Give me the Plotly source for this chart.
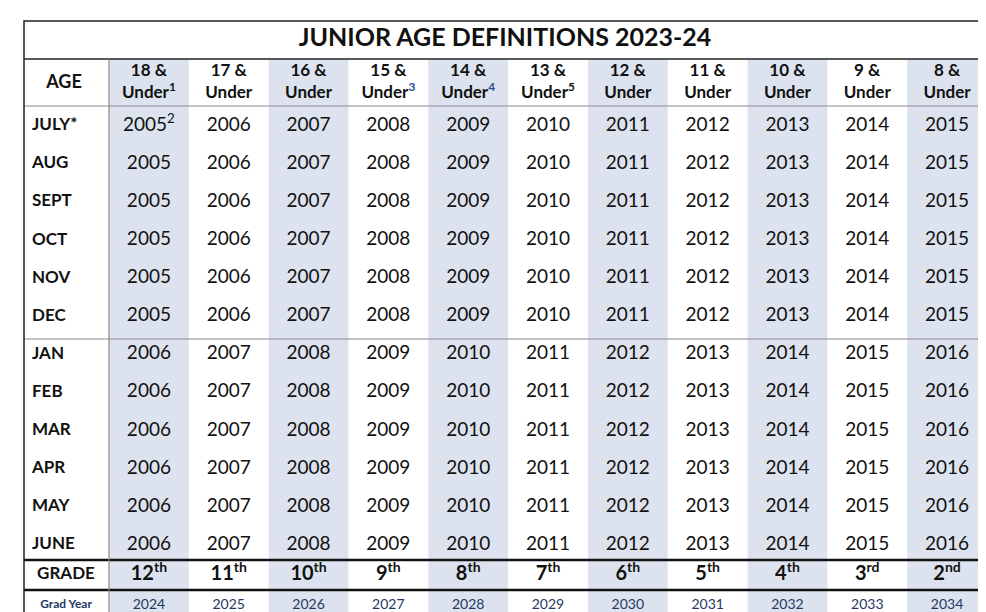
import plotly.graph_objects as go

title = "JUNIOR AGE DEFINITIONS 2023-24"
ages = ["18 &<br>Under<sup>1</sup>", "17 &<br>Under", "16 &<br>Under", "15 &<br>Under<sup><span style='color:#2f4b9a'>3</span></sup>",
        "14 &<br>Under<sup><span style='color:#2f4b9a'>4</span></sup>", "13 &<br>Under<sup>5</sup>", "12 &<br>Under",
        "11 &<br>Under", "10 &<br>Under", "9 &<br>Under", "8 &<br>Under"]
months = ["JULY*", "AUG", "SEPT", "OCT", "NOV", "DEC", "JAN", "FEB", "MAR", "APR", "MAY", "JUNE"]
fall_years = [2005, 2006, 2007, 2008, 2009, 2010, 2011, 2012, 2013, 2014, 2015]
spring_years = [2006, 2007, 2008, 2009, 2010, 2011, 2012, 2013, 2014, 2015, 2016]
grades = ["12<sup>th</sup>", "11<sup>th</sup>", "10<sup>th</sup>", "9<sup>th</sup>", "8<sup>th</sup>", "7<sup>th</sup>",
          "6<sup>th</sup>", "5<sup>th</sup>", "4<sup>th</sup>", "3<sup>rd</sup>", "2<sup>nd</sup>"]
grad_years = [2024, 2025, 2026, 2027, 2028, 2029, 2030, 2031, 2032, 2033, 2034]

FONT = "Lato"
L, R, LBL = 10, 973, 95
cw = (R - LBL) / len(ages)
xc = [LBL + (i + 0.5) * cw for i in range(len(ages))]
row_y = [112 + i * 38.1 for i in range(len(months))]
row_y[-1] = 531
shade = "#dce3ee"

fig = go.Figure()
shapes = []
for i in range(0, len(ages), 2):
    shapes.append(dict(type="rect", xref="x", yref="y", x0=LBL + i * cw, x1=LBL + (i + 1) * cw,
                       y0=45, y1=604, fillcolor=shade, line_width=0, layer="below"))

def hline(y, color="#8a8a8a", w=1.2):
    shapes.append(dict(type="line", xref="x", yref="y", x0=L, x1=R, y0=y, y1=y, line=dict(color=color, width=w)))

hline(45, "#222", 1.5)
hline(92)
hline(325)
hline(546, "#111", 2.5)
hline(576, "#111", 2.5)
hline(604)
shapes.append(dict(type="line", xref="x", yref="y", x0=LBL, x1=LBL, y0=45, y1=604, line=dict(color="#8a8a8a", width=1.2)))
shapes.append(dict(type="rect", xref="x", yref="y", x0=L, x1=R, y0=7, y1=640, line=dict(color="#222", width=1.5)))

def texts(xs, ys, t, size, color="#111", bold=False, pos="middle center"):
    fig.add_trace(go.Scatter(x=xs, y=ys, mode="text", text=[f"<b>{s}</b>" if bold else str(s) for s in t],
                             textposition=pos,
                             textfont=dict(family=FONT, size=size, color=color), hoverinfo="skip", showlegend=False))

texts([491], [26], [title], 25, bold=True)
texts([50], [69], ["AGE"], 18, bold=True)
texts(xc, [69] * len(ages), ages, 17, bold=True)
texts([18] * len(months), row_y, months, 17, bold=True, pos="middle right")
for r in range(len(months)):
    yrs = fall_years if r < 6 else spring_years
    t = [str(v) for v in yrs]
    if r == 0:
        t[0] = "2005<sup>2</sup>"
    texts(xc, [row_y[r]] * len(xc), t, 19)
texts([52], [561], ["GRADE"], 17, bold=True)
texts(xc, [561] * len(xc), grades, 20, bold=True)
texts([52], [591], ["Grad Year"], 12, color="#1f3864", bold=True)
texts(xc, [591] * len(xc), grad_years, 14, color="#1f3864")

fig.update_layout(width=986, height=612, margin=dict(l=0, r=0, t=0, b=0), plot_bgcolor="white",
                  paper_bgcolor="white", shapes=shapes,
                  xaxis=dict(range=[-6, 980], visible=False, fixedrange=True),
                  yaxis=dict(range=[606, -6], visible=False, fixedrange=True))
fig.write_html("out.html")
